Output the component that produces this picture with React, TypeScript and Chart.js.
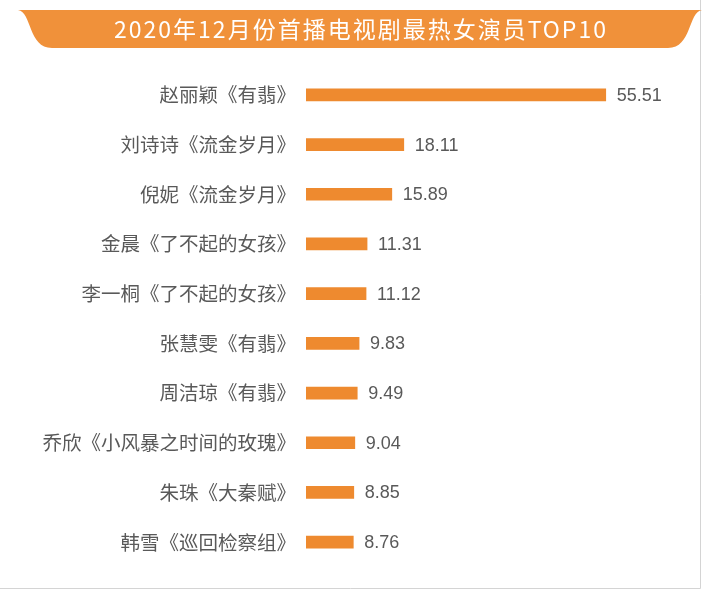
import React, { useEffect, useRef } from "react";
import { Chart, registerables } from "chart.js";

Chart.register(...registerables);

const TITLE = "2020年12月份首播电视剧最热女演员TOP10";
const categories = [
  "赵丽颖《有翡》",
  "刘诗诗《流金岁月》",
  "倪妮《流金岁月》",
  "金晨《了不起的女孩》",
  "李一桐《了不起的女孩》",
  "张慧雯《有翡》",
  "周洁琼《有翡》",
  "乔欣《小风暴之时间的玫瑰》",
  "朱珠《大秦赋》",
  "韩雪《巡回检察组》",
];
const values = [55.51, 18.11, 15.89, 11.31, 11.12, 9.83, 9.49, 9.04, 8.85, 8.76];

const BAR_COLOR = "#EE8A2F";
const BANNER_COLOR = "#F0913A";
const TEXT_COLOR = "#595959";

const bgPlugin = {
  id: "bgPlugin",
  beforeDraw(chart: any) {
    const ctx = chart.ctx as CanvasRenderingContext2D;
    ctx.save();
    ctx.fillStyle = "#ffffff";
    ctx.fillRect(0, 0, chart.width, chart.height);
    // panel borders
    ctx.strokeStyle = "#d4d4d4";
    ctx.lineWidth = 1;
    ctx.beginPath();
    ctx.moveTo(700.5, 0);
    ctx.lineTo(700.5, 588.5);
    ctx.lineTo(0, 588.5);
    ctx.stroke();
    // banner
    ctx.fillStyle = BANNER_COLOR;
    ctx.beginPath();
    ctx.moveTo(18, 10);
    ctx.lineTo(702, 10);
    ctx.bezierCurveTo(688, 12, 692, 48, 668, 48);
    ctx.lineTo(52, 48);
    ctx.bezierCurveTo(28, 48, 32, 12, 18, 10);
    ctx.closePath();
    ctx.fill();
    // title
    ctx.fillStyle = "#ffffff";
    ctx.font = '23px "Noto Sans CJK SC"';
    (ctx as any).letterSpacing = "2px";
    ctx.textAlign = "center";
    ctx.textBaseline = "middle";
    ctx.fillText(TITLE, 361, 29);
    ctx.restore();
  },
};

const valuePlugin = {
  id: "valuePlugin",
  afterDatasetsDraw(chart: any) {
    const ctx = chart.ctx as CanvasRenderingContext2D;
    const meta = chart.getDatasetMeta(0);
    ctx.save();
    ctx.fillStyle = TEXT_COLOR;
    ctx.font = '18px "Liberation Sans"';
    ctx.textAlign = "left";
    ctx.textBaseline = "middle";
    meta.data.forEach((bar: any, i: number) => {
      ctx.fillText(values[i].toFixed(2), bar.x + 11, bar.y + 1);
    });
    ctx.restore();
  },
};

export default function App() {
  const ref = useRef<HTMLCanvasElement>(null);
  useEffect(() => {
    if (!ref.current) return;
    const chart = new Chart(ref.current, {
      type: "bar",
      data: {
        labels: categories,
        datasets: [
          {
            data: values,
            backgroundColor: BAR_COLOR,
            barThickness: 12,
            borderWidth: 0,
          },
        ],
      },
      options: {
        indexAxis: "y",
        responsive: false,
        animation: false,
        events: [],
        layout: { padding: { left: 0, right: 89, top: 70, bottom: 24 } },
        plugins: {
          legend: { display: false },
          tooltip: { enabled: false },
          title: { display: false },
        },
        scales: {
          x: { display: false, min: 0, max: 60 },
          y: {
            afterFit: (s: any) => {
              s.width = 306;
            },
            grid: { display: false, drawTicks: false },
            border: { display: false },
            ticks: {
              color: TEXT_COLOR,
              padding: 10,
              font: { family: '"Noto Sans CJK SC"', size: 19.5 },
            },
          },
        },
      },
      plugins: [bgPlugin, valuePlugin],
    });
    return () => chart.destroy();
  }, []);
  return (
    <div style={{ position: "absolute", left: 0, top: 0, width: 719, height: 591 }}>
      <canvas ref={ref} width={719} height={591} style={{ width: 719, height: 591 }} />
    </div>
  );
}
